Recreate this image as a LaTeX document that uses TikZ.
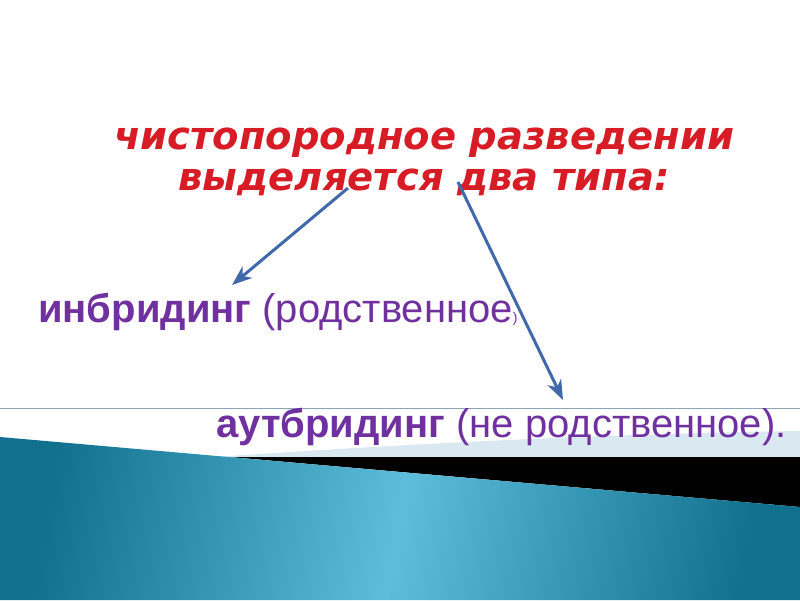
\documentclass[tikz,border=0pt]{standalone}
\usepackage{fontspec}
\setmainfont{Liberation Sans}
\newfontfamily\titlefont{DejaVu Sans}
\usetikzlibrary{arrows.meta}
\definecolor{titlered}{RGB}{215,28,38}
\definecolor{textpurple}{RGB}{112,48,160}
\definecolor{arrowblue}{RGB}{64,104,170}
\definecolor{tealdark}{RGB}{16,112,142}
\definecolor{teallight}{RGB}{92,190,218}
\definecolor{bandblue}{RGB}{218,233,241}
\definecolor{rulegray}{RGB}{140,165,185}
\tikzset{
  titletext/.style={inner sep=0pt, align=center, text=titlered,
    font=\titlefont\bfseries\itshape\fontsize{38.5}{41}\selectfont},
  typetext/.style={inner sep=0pt, anchor=base west, text=textpurple,
    font=\fontsize{40}{46}\selectfont},
  pointer/.style={draw=arrowblue, line width=3pt,
    -{Stealth[length=20pt, width=15pt, inset=6pt]}}
}
\begin{document}
\begin{tikzpicture}[x=1pt, y=-1pt]
\useasboundingbox (0,0) rectangle (800,600);
\fill [white] (0,0) rectangle (800,600);

\fill [bandblue] (200,458) .. controls (400,444) and (600,434) .. (800,431) -- (800,458) -- cycle;
\fill [black] (230,457) -- (800,457) -- (800,507) -- cycle;
\shade [left color=tealdark, right color=tealdark, middle color=teallight, shading angle=80]
  (0,437) -- (800,507) -- (800,600) -- (0,600) -- cycle;
\draw [rulegray, line width=1pt] (0,408) -- (800,408);

\node [titletext, anchor=base] (title) at (424,190)
  {чистопородное разведении\\выделяется два типа:};
\node [typetext] (inbreeding) at (38,322)
  {\textbf{инбридинг} (родственное{\fontsize{14}{16}\selectfont)}};
\node [typetext] (outbreeding) at (216,437)
  {\textbf{аутбридинг} (не родственное).};

\coordinate (fromleft) at (348,188);
\coordinate (toleft) at (232,285);
\coordinate (fromright) at (458,182);
\coordinate (toright) at (563,400);
\draw [pointer] (fromleft) -- (toleft);
\draw [pointer] (fromright) -- (toright);
\end{tikzpicture}
\end{document}
